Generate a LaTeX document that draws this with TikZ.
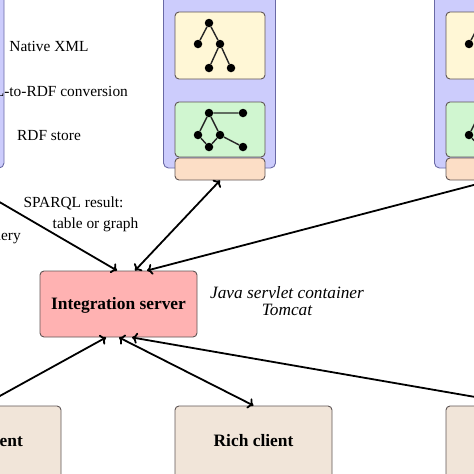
\documentclass[tikz,border=0pt]{standalone}
\usepackage{fontspec}
\setmainfont{Liberation Serif}
\usetikzlibrary{arrows.meta}
\definecolor{cblue}{RGB}{204,204,252}
\definecolor{cbluedraw}{RGB}{105,105,165}
\definecolor{cyel}{RGB}{255,247,214}
\definecolor{cgreen}{RGB}{208,246,208}
\definecolor{cpeach}{RGB}{252,222,198}
\definecolor{cpink}{RGB}{255,178,178}
\definecolor{clinen}{RGB}{241,229,217}
\definecolor{cborder}{RGB}{95,85,85}
\begin{document}
\begin{tikzpicture}[x=1pt,y=-1pt,
  rbox/.style={draw=cborder, line width=0.9pt, rounded corners=4pt, inner sep=0pt},
  cont/.style={draw=cbluedraw, fill=cblue, line width=0.9pt, rounded corners=5pt, inner sep=0pt, minimum width=112pt, minimum height=198pt},
  dot/.style={circle, fill=black, inner sep=0pt, minimum size=8.5pt},
  tedge/.style={line width=1.4pt, draw=black!85},
  conn/.style={line width=1.8pt, draw=black, -{To[length=5.5pt,width=11pt]}},
  dconn/.style={line width=1.8pt, draw=black, {To[length=5.5pt,width=11pt]}-{To[length=5.5pt,width=11pt]}},
  lbl/.style={inner sep=0pt, font=\fontsize{15.4}{18}\selectfont},
  blbl/.style={inner sep=0pt, font=\fontsize{17.4}{20}\selectfont\bfseries},
  ilbl/.style={inner sep=0pt, font=\fontsize{17.3}{20}\selectfont\itshape}
]
\useasboundingbox (0,0) rectangle (474,474);
\clip (0,0) rectangle (474,474);

% left container (legend)
\node[cont] (cl) at (-52,69) {};
\node[lbl, anchor=base] (lnx) at (49,51) {Native XML};
\node[lbl, anchor=base] (lconv) at (49,96) {XML-to-RDF conversion};
\node[lbl, anchor=base] (lrdf) at (49,140) {RDF store};

% the two repository containers
\foreach \o/\n in {0/m, 271/r}{
  \begin{scope}[xshift=\o pt]
    \node[cont] (c\n) at (219.5,69) {};
    \node[rbox, fill=cyel, minimum width=90pt, minimum height=67pt] (y\n) at (220,45.5) {};
    \node[rbox, fill=cgreen, minimum width=90pt, minimum height=55pt] (g\n) at (220,129.5) {};
    \node[rbox, fill=cpeach, minimum width=90pt, minimum height=22pt] (o\n) at (220,169) {};
    % tree
    \node[dot] (ta\n) at (209,23) {};
    \node[dot] (tb\n) at (198,44) {};
    \node[dot] (tc\n) at (220,44) {};
    \node[dot] (td\n) at (209,68) {};
    \node[dot] (te\n) at (231,68) {};
    \draw[tedge] (ta\n) -- (tb\n) (ta\n) -- (tc\n) (tc\n) -- (td\n) (tc\n) -- (te\n);
    % graph
    \node[dot] (ga\n) at (209,113) {};
    \node[dot] (gb\n) at (243,113) {};
    \node[dot] (gc\n) at (198,135) {};
    \node[dot] (gd\n) at (220,135) {};
    \node[dot] (ge\n) at (209,147) {};
    \node[dot] (gf\n) at (243,147) {};
    \draw[tedge] (ga\n) -- (gb\n) (ga\n) -- (gc\n) (ga\n) -- (gd\n)
                 (gc\n) -- (ge\n) (ge\n) -- (gd\n) (gd\n) -- (gf\n);
  \end{scope}
}

% integration server
\node[rbox, fill=cpink, minimum width=157pt, minimum height=66pt] (server) at (118.5,304) {};
\node[blbl, anchor=base] (servertxt) at (118.5,309) {Integration server};
\node[ilbl, anchor=base] (java) at (287,298.5) {Java servlet container};
\node[ilbl, anchor=base] (tomcat) at (287,315) {Tomcat};

% clients
\node[rbox, fill=clinen, minimum width=157pt, minimum height=120pt] (thin) at (-17.5,466) {};
\node[blbl, anchor=base] (thintxt) at (-17.5,446) {Thin client};
\node[rbox, fill=clinen, minimum width=157pt, minimum height=120pt] (rich) at (253.5,466) {};
\node[blbl, anchor=base] (richtxt) at (253.5,446) {Rich client};
\node[rbox, fill=clinen, minimum width=157pt, minimum height=120pt] (rcl) at (524.5,466) {};

% query source (off frame)
\coordinate (qsrc) at (-40,179);

% connectors
\draw[conn] (qsrc) -- ([xshift=-1.5pt]server.north);
\draw[dconn] ([xshift=16.5pt]server.north) -- (om.south);
\draw[dconn] ([xshift=28.5pt]server.north) -- (or.south);
\draw[conn] (thin.north) -- ([xshift=-12.5pt]server.south);
\draw[dconn] ([xshift=0.5pt]server.south) -- (rich.north);
\draw[conn] (rcl.north) -- ([xshift=13.5pt]server.south);

% labels
\node[lbl, anchor=base east] (qlbl) at (21,240) {SPARQL query};
\node[lbl, anchor=base] (res1) at (73.5,207) {SPARQL result:};
\node[lbl, anchor=base] (res2) at (95.5,228) {table or graph};
\end{tikzpicture}
\end{document}
